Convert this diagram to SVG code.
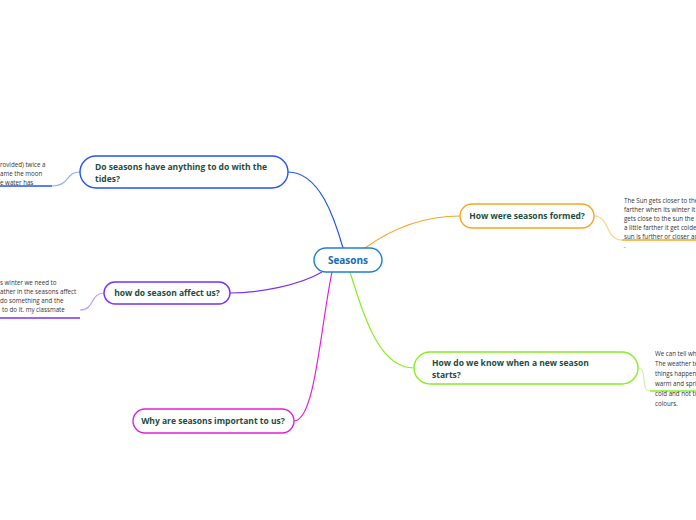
<svg xmlns="http://www.w3.org/2000/svg" width="696" height="520" viewBox="0 0 696 520">
<style>
.n{fill:#fff;stroke-width:1.4}
.t{font-family:"Open Sans","Noto Sans",sans-serif;font-weight:bold;font-size:8.5px;fill:#1b4d3e}
.s{font-family:"Open Sans","Noto Sans",sans-serif;font-size:6.2px;fill:#333}
.c{fill:none;stroke-width:1.2}
</style>
<rect width="696" height="520" fill="#fff"/>
<g id="connectors">
<path class="c" stroke="#2255ee" d="M343,248 C335,220 320,172 288,172"/>
<path class="c" stroke="#f5a623" d="M365,248 C390,230 420,216 460,216"/>
<path class="c" stroke="#7b2ff7" d="M322,272 C300,285 260,293 230,293"/>
<path class="c" stroke="#88ee22" d="M350,272 C365,320 380,368 414,368"/>
<path class="c" stroke="#e020d8" d="M332,272 C320,330 315,421 294,421"/>
<path class="c" stroke="#99aaff" d="M52,186 C70,186 65,172 80,172"/>
<path stroke="#2255ee" stroke-width="1.5" d="M0,186 H52"/>
<path class="c" stroke="#bb99ff" d="M80,310 C95,310 90,293 104,293"/>
<path stroke="#7b2ff7" stroke-width="1.5" d="M0,318 H80"/>
<path class="c" stroke="#ffd080" d="M594,216 C610,216 605,240 622,240"/>
<path stroke="#f5a623" stroke-width="1.5" d="M622,240 H696"/>
<path class="c" stroke="#ccf5a0" d="M638,368 C648,368 640,391 650,391"/>
<path stroke="#88ee22" stroke-width="1.5" d="M650,391 H696"/>
</g>
<g id="center"><rect class="n" x="314" y="248" width="68" height="24" rx="12" stroke="#1a7fd4"/><text x="348" y="264" text-anchor="middle" font-family="Open Sans,Noto Sans,sans-serif" font-weight="bold" font-size="10" fill="#1a6bb0">Seasons</text></g>
<g id="tides"><rect class="n" x="80" y="156" width="208" height="32" rx="16" stroke="#2255ee"/><text class="t" x="95" y="170">Do seasons have anything to do with the</text><text class="t" x="95" y="182">tides?</text></g>
<g id="tidesnote"><text class="s" x="0" y="167">rovided) twice a</text><text class="s" x="0" y="176">ame the moon</text><text class="s" x="0" y="185">e water has</text></g>
<g id="formed"><rect class="n" x="460" y="204" width="134" height="24" rx="12" stroke="#f5a623"/><text class="t" x="527" y="219" text-anchor="middle">How were seasons formed?</text></g>
<g id="formednote"><text class="s" x="624" y="203">The Sun gets closer to the</text><text class="s" x="624" y="212">farther when its winter it c</text><text class="s" x="624" y="221">gets close to the sun the p</text><text class="s" x="624" y="230">a little farther it get colder</text><text class="s" x="624" y="239">sun is further or closer ad</text><text class="s" x="624" y="248">.</text></g>
<g id="affect"><rect class="n" x="104" y="282" width="126" height="22" rx="11" stroke="#7b2ff7"/><text class="t" x="167" y="296" text-anchor="middle">how do season affect us?</text></g>
<g id="affectnote"><text class="s" x="0" y="285">s winter we need to</text><text class="s" x="0" y="294">ather in the seasons affect</text><text class="s" x="0" y="303">do something and the</text><text class="s" x="2" y="312">to do it. my classmate</text></g>
<g id="newseason"><rect class="n" x="414" y="352" width="224" height="32" rx="16" stroke="#88ee22"/><text class="t" x="432" y="366">How do we know when a new season</text><text class="t" x="432" y="378">starts?</text></g>
<g id="newnote"><text class="s" x="655" y="356">We can tell whe</text><text class="s" x="655" y="366">The weather te</text><text class="s" x="655" y="376">things happen</text><text class="s" x="655" y="386">warm and sprin</text><text class="s" x="655" y="396">cold and not to</text><text class="s" x="655" y="406">colours.</text></g>
<g id="important"><rect class="n" x="133" y="409" width="161" height="24" rx="12" stroke="#e020d8"/><text class="t" x="213" y="424" text-anchor="middle">Why are seasons important to us?</text></g>
</svg>
